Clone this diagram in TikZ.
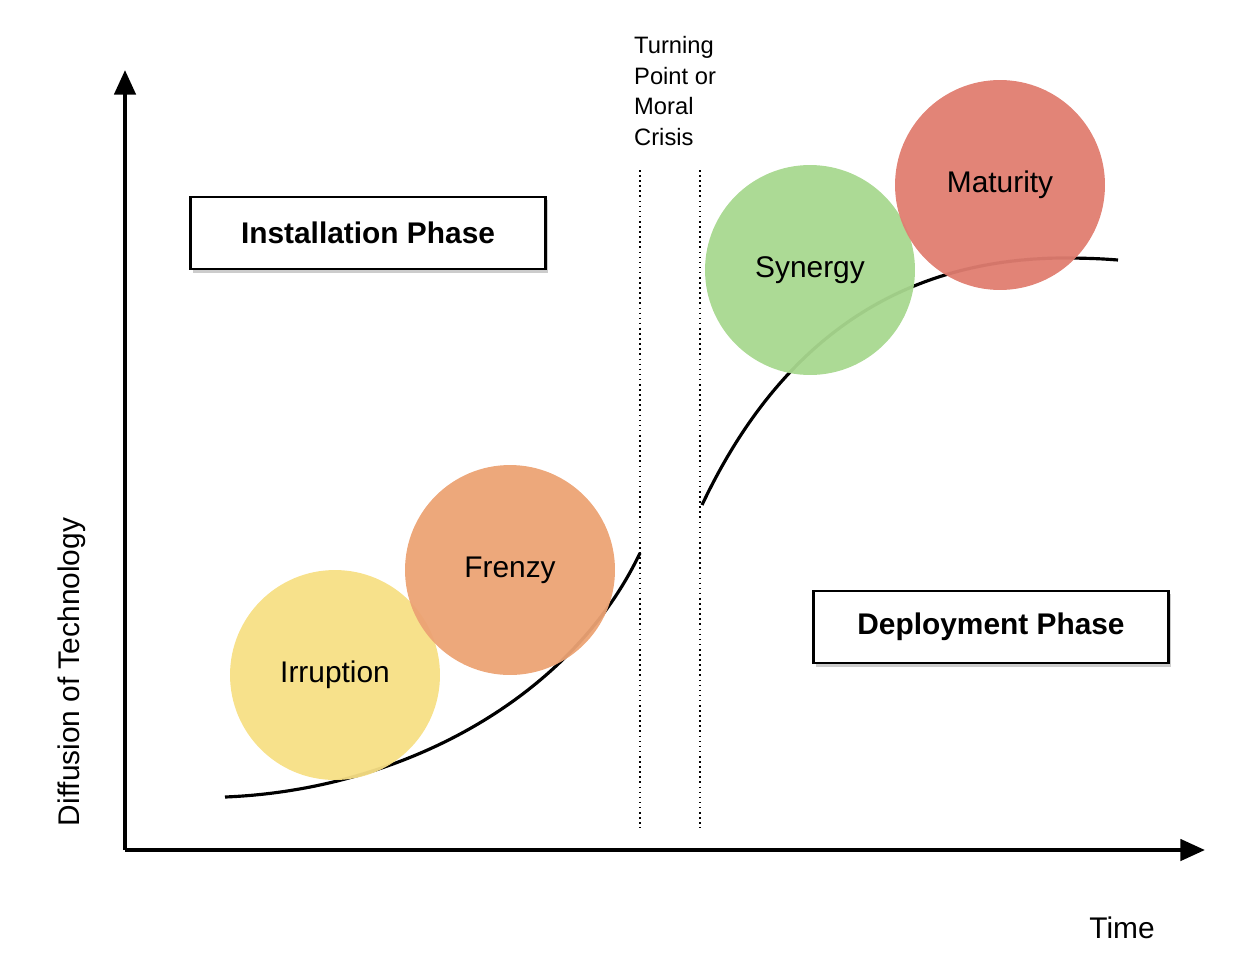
\documentclass[tikz,border=0pt]{standalone}
\usepackage{fontspec}
\setmainfont{Liberation Sans}
\usetikzlibrary{arrows.meta,shadows}
\definecolor{cirr}{HTML}{F7DF85}
\definecolor{cfre}{HTML}{ECA374}
\definecolor{csyn}{HTML}{A8D88F}
\definecolor{cmat}{HTML}{E07D70}
\begin{document}
\begin{tikzpicture}[x=0.02cm,y=-0.02cm,
  bub/.style={circle,minimum size=4.2cm,inner sep=0pt,opacity=0.95,text opacity=1,font=\fontsize{17}{19}\selectfont},
  phase/.style={draw=black,line width=1.2pt,fill=white,minimum width=7.1cm,minimum height=1.45cm,font=\bfseries\fontsize{17}{19}\selectfont,drop shadow={shadow xshift=1.5pt,shadow yshift=-2pt,opacity=0.4}},
  curve/.style={line width=1.8pt},
  sep/.style={dotted,line width=0.9pt},
  lbl/.style={font=\fontsize{13.5}{17.5}\selectfont,align=left}]
\useasboundingbox (0,0) rectangle (1256,974);
\coordinate (o) at (125,850);
\coordinate (ytop) at (125,70);
\coordinate (xend) at (1205,850);
\draw[line width=2.4pt,-{Triangle[length=14pt,width=12pt]}] (o) -- (ytop);
\draw[line width=2.4pt,-{Triangle[length=14pt,width=12pt]}] (o) -- (xend);
\coordinate (s1a) at (640,170); \coordinate (s1b) at (640,828);
\coordinate (s2a) at (700,170); \coordinate (s2b) at (700,828);
\draw[sep] (s1a) -- (s1b);
\draw[sep] (s2a) -- (s2b);
\coordinate (c1s) at (225,797); \coordinate (c1e) at (640,553);
\coordinate (c2s) at (702,505); \coordinate (c2e) at (1118,260);
\draw[curve] (c1s) .. controls (400,790) and (570,700) .. (c1e);
\draw[curve] (c2s) .. controls (780,340) and (900,260) .. (1060,258) .. controls (1090,258) and (1105,259) .. (c2e);
\node[bub,fill=cirr] (irr) at (335,675) {Irruption};
\node[bub,fill=cfre] (fre) at (510,570) {Frenzy};
\node[bub,fill=csyn] (syn) at (810,270) {Synergy};
\node[bub,fill=cmat] (mat) at (1000,185) {Maturity};
\node[phase] (inst) at (368,233) {Installation Phase};
\node[phase] (dep) at (991,627) {Deployment Phase};
\node[lbl,anchor=north west] (tp) at (628,30) {Turning\\Point or\\Moral\\Crisis};
\node[font=\fontsize{17}{19}\selectfont] (time) at (1122,928) {Time};
\node[font=\fontsize{17}{19}\selectfont,rotate=90] (diff) at (72,672) {Diffusion of Technology};
\end{tikzpicture}
\end{document}
